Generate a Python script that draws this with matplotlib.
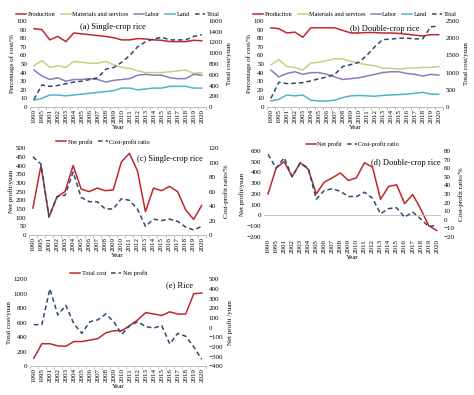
import matplotlib
matplotlib.use("Agg")
import matplotlib.pyplot as plt
import numpy as np

plt.rcParams['font.family'] = ['Liberation Serif', 'DejaVu Serif']

years = ["1990", "1995"] + [str(y) for y in range(2001, 2021)]

# (a) single-crop rice cost structure
a_prod = [91, 90, 78, 82, 76, 86, 85, 84, 83, 82, 80.5, 78, 78, 79.5, 79, 78, 77.5, 76, 76, 76, 77.5, 77]
a_mat = [48, 54, 46, 48, 46, 53, 52, 51, 51, 53, 49, 46, 45, 42, 40, 40, 40, 41, 42, 43, 39, 40]
a_lab = [43, 36, 32, 34, 30, 32, 32, 33, 32, 29, 31, 32, 33, 37, 38, 37, 37, 34, 33, 33, 38, 37]
a_land = [8, 10, 14, 14, 13, 14, 15, 16, 17, 18, 19, 22, 22, 20, 21, 22, 22, 24, 24, 24, 22, 22]
a_total = [140, 410, 384, 400, 432, 464, 480, 512, 544, 704, 736, 832, 960, 1120, 1216, 1264, 1296, 1248, 1248, 1248, 1312, 1344]

# (b) double-crop rice cost structure
b_prod = [92, 91, 86, 87, 81, 92, 92, 92, 92, 89, 86, 86, 86.5, 86.5, 86, 86, 85.5, 84.5, 83.5, 82.5, 84, 84]
b_mat = [49, 55, 47, 46, 43, 51, 52, 54, 56, 56, 53, 51, 49, 48, 45, 45, 44, 45, 45.5, 46, 46, 47]
b_lab = [43, 35, 39, 41, 38, 40, 40, 38, 35, 32, 33, 34, 36, 38, 40, 41, 41, 39, 38, 36, 38, 37]
b_land = [7, 9, 14, 13, 14, 8, 7, 7, 8, 11, 13, 13.5, 13, 12.5, 13.5, 14, 14.5, 15, 16, 17, 15, 15]
b_total = [250, 720, 680, 690, 710, 760, 820, 870, 950, 1180, 1230, 1300, 1500, 1750, 1960, 1970, 2000, 2000, 1980, 1980, 2330, 2350]

# (c) single-crop rice profit
c_profit = [155, 400, 105, 220, 250, 400, 265, 250, 270, 255, 260, 420, 470, 370, 135, 270, 255, 280, 250, 145, 90, 170]
c_ratio = [108, 98, 25, 53, 55, 87, 52, 46, 46, 36, 36, 50, 48, 36, 12, 22, 20, 22, 19, 11, 7, 12]

# (d) double-crop rice profit
d_profit = [200, 440, 500, 360, 490, 430, 200, 310, 350, 395, 325, 350, 490, 450, 150, 270, 285, 110, 195, 60, -95, -140]
d_ratio = [76, 60, 72, 50, 66, 60, 24, 34, 36, 33, 27, 27, 32, 25, 7, 13, 14, 3, 9, 1, -8, -6]

# (e) rice
e_cost = [110, 310, 310, 280, 275, 340, 340, 360, 380, 460, 490, 490, 560, 640, 740, 720, 700, 750, 720, 720, 1000, 1010]
e_profit = [30, 30, 400, 130, 230, 40, -60, 60, 80, 140, 60, -70, 20, 60, 10, -5, 20, -170, -60, -90, -200, -330]

RED = "#C0272D"
MAT = "#C5D17F"
LAB = "#8B7BB8"
LAND = "#4DB6C6"
NAVY = "#2F4A6E"
FS = 5
TFS = 6

x = np.arange(len(years))


def style(ax, ax2, ylim, yticks, ylim2, yticks2, ylab, ylab2, zero_line=False):
    ax.set_xlim(-0.5, len(years) - 0.5)
    ax.set_xticks(x)
    ax.set_xticklabels(years, rotation=90, fontsize=FS)
    ax.set_xticks(np.arange(-0.5, len(years), 1), minor=True)
    ax.tick_params(axis='x', which='major', length=0, pad=1.5)
    ax.tick_params(axis='x', which='minor', length=2, color="#BBBBBB")
    ax.set_ylim(*ylim)
    ax.set_yticks(yticks)
    ax.tick_params(axis='y', labelsize=FS, length=0, pad=2)
    ax2.set_ylim(*ylim2)
    ax2.set_yticks(yticks2)
    ax2.tick_params(axis='y', labelsize=FS, length=0, pad=2)
    ax.set_ylabel(ylab, fontsize=FS, labelpad=1)
    ax2.set_ylabel(ylab2, fontsize=FS, labelpad=3)
    ax.set_xlabel("Year", fontsize=FS, labelpad=1)
    for a in (ax, ax2):
        for s in ("top", "left", "right"):
            a.spines[s].set_visible(False)
        a.spines["bottom"].set_color("#BBBBBB")
        a.spines["bottom"].set_linewidth(0.6)
    if zero_line:
        ax.spines["bottom"].set_visible(False)
        ax2.spines["bottom"].set_visible(False)
        ax.axhline(0, color="#BBBBBB", lw=0.6)
        ax.tick_params(axis='x', which='minor', length=0)


def add_legend(ax, ax2, xc):
    h1, l1 = ax.get_legend_handles_labels()
    h2, l2 = ax2.get_legend_handles_labels()
    ax.legend(h1 + h2, l1 + l2, ncol=len(h1 + h2), fontsize=FS - 0.5, frameon=False,
              loc="lower center", bbox_to_anchor=(xc, 1.04), handlelength=1.6,
              columnspacing=0.8, handletextpad=0.25, borderpad=0, borderaxespad=0)


fig = plt.figure(figsize=(4.74, 3.95), dpi=100)

# (a)
ax = fig.add_axes([0.063, 0.729, 0.371, 0.218])
ax2 = ax.twinx()
ax.plot(x, a_prod, color=RED, lw=1.1, label="Production")
ax.plot(x, a_mat, color=MAT, lw=1.1, label="Materials and services")
ax.plot(x, a_lab, color=LAB, lw=1.1, label="Labor")
ax.plot(x, a_land, color=LAND, lw=1.1, label="Land")
ax2.plot(x, a_total, color=NAVY, lw=1.1, ls=(0, (3, 2)), label="Total")
style(ax, ax2, (0, 100), range(0, 101, 10), (0, 1600), range(0, 1601, 200),
      "Percentage of cost/%", "Total cost/yuan")
ax.text(0.47, 0.93, "(a) Single-crop rice", transform=ax.transAxes, fontsize=TFS, ha="center", va="center")
add_legend(ax, ax2, 0.5)

# (b)
ax = fig.add_axes([0.563, 0.729, 0.371, 0.218])
ax2 = ax.twinx()
ax.plot(x, b_prod, color=RED, lw=1.1, label="Production")
ax.plot(x, b_mat, color=MAT, lw=1.1, label="Materials and services")
ax.plot(x, b_lab, color=LAB, lw=1.1, label="Labor")
ax.plot(x, b_land, color=LAND, lw=1.1, label="Land")
ax2.plot(x, b_total, color=NAVY, lw=1.1, ls=(0, (3, 2)), label="Total")
style(ax, ax2, (0, 100), range(0, 101, 10), (0, 2500), range(0, 2501, 500),
      "Percentage of cost/%", "Total cost/yuan")
ax.text(0.67, 0.91, "(b) Double-crop rice", transform=ax.transAxes, fontsize=TFS, ha="center", va="center")
add_legend(ax, ax2, 0.5)

# (c)
ax = fig.add_axes([0.061, 0.405, 0.373, 0.22])
ax2 = ax.twinx()
ax.plot(x, c_profit, color=RED, lw=1.1, label="Net profit")
ax2.plot(x, c_ratio, color=NAVY, lw=1.1, ls=(0, (3, 2)), label="Cost-profit ratio")
style(ax, ax2, (0, 500), range(0, 501, 50), (0, 120), range(0, 121, 20),
      "Net profit/yuan", "Cost-profit ratio/%")
ax.text(0.8, 0.88, "(c) Single-crop rice", transform=ax.transAxes, fontsize=TFS, ha="center", va="center")
add_legend(ax, ax2, 0.42)

# (d)
ax = fig.add_axes([0.557, 0.4, 0.373, 0.218])
ax2 = ax.twinx()
ax.plot(x, d_profit, color=RED, lw=1.1, label="Net profit")
ax2.plot(x, d_ratio, color=NAVY, lw=1.1, ls=(0, (3, 2)), label="Cost-profit ratio")
style(ax, ax2, (-200, 600), range(-200, 601, 100), (-20, 80), range(-20, 81, 10),
      "Net profit/yuan", "Cost-profit ratio/%", zero_line=True)
ax.text(0.8, 0.86, "(d) Double-crop rice", transform=ax.transAxes, fontsize=TFS, ha="center", va="center")
add_legend(ax, ax2, 0.5)

# (e)
ax = fig.add_axes([0.063, 0.073, 0.371, 0.22])
ax2 = ax.twinx()
ax.plot(x, e_cost, color=RED, lw=1.1, label="Total cost")
ax2.plot(x, e_profit, color=NAVY, lw=1.1, ls=(0, (3, 2)), label="Net profit")
style(ax, ax2, (0, 1200), range(0, 1201, 200), (-400, 500), range(-400, 501, 100),
      "Total cost/yuan", "Net profit /yuan")
ax.text(0.85, 0.93, "(e) Rice", transform=ax.transAxes, fontsize=TFS, ha="center", va="center")
add_legend(ax, ax2, 0.45)

fig.savefig("out.png", dpi=100)
